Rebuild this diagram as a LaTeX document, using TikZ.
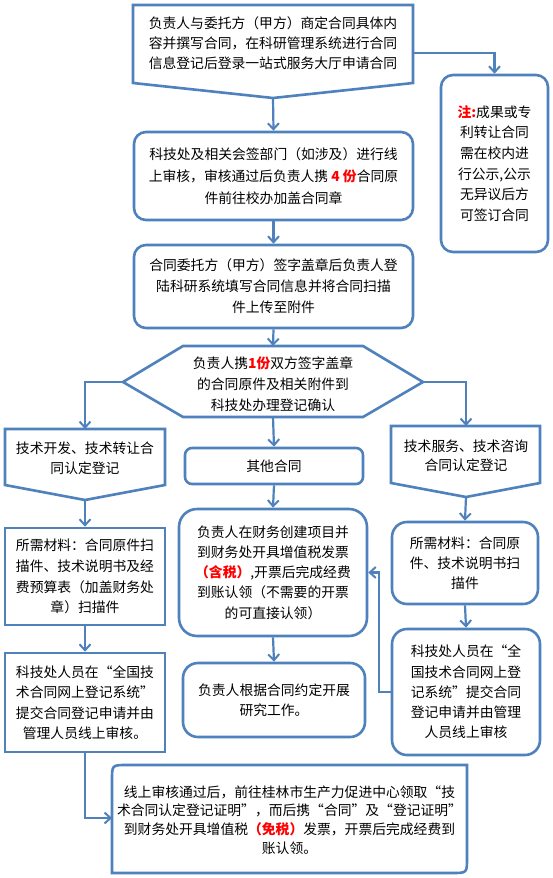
\documentclass[tikz,border=0pt]{standalone}
\usepackage{fontspec}
\setmainfont{Noto Sans CJK SC}
\usetikzlibrary{arrows.meta}
\definecolor{bl}{RGB}{79,129,189}
\definecolor{rd}{RGB}{255,0,0}
\newcommand{\hl}[1]{\textcolor{rd}{\bfseries #1}}
\begin{document}
\begin{tikzpicture}[x=1pt,y=-1pt,
  box/.style={draw=bl, line width=2.6pt, fill=white, line join=miter},
  txt/.style={align=center, inner sep=0pt, font=\fontsize{13.8}{#1}\selectfont},
  txt/.default=20.5,
  rbox/.style={box, rounded corners=#1, inner sep=0pt},
  rbox/.default=12pt,
  arr/.style={draw=bl, line width=2.2pt, -{Straight Barb[length=6pt,width=11pt,line width=2pt]}}]
\fill[white] (0,0) rectangle (552,878);
\useasboundingbox (0,0) rectangle (552,878);

% box 1 (pentagon)
\draw[box] (133,5) -- (413,5) -- (413,83) -- (273,98) -- (133,83) -- cycle;
\node[txt=20] (t1) at (273,43) {负责人与委托方（甲方）商定合同具体内\\容并撰写合同，在科研管理系统进行合同\\信息登记后登录一站式服务大厅申请合同};
\coordinate (b1s) at (273,98);
\coordinate (b1e) at (413,53);

% note
\node[rbox=12pt, minimum width=107pt, minimum height=177pt, txt=20.6] (note) at (494.5,163.5)
  {\hl{注:}成果或专\\利转让合同\\需在校内进\\行公示,公示\\无异议后方\\可签订合同};
\draw[arr] (b1e) -| (note.north);

% box 2
\node[rbox=12pt, minimum width=279pt, minimum height=88pt, txt=22] (b2) at (273.5,176)
  {科技处及相关会签部门（如涉及）进行线\\上审核，审核通过后负责人携\hl{ 4 份}合同原\\件前往校办加盖合同章};
\draw[arr] (b1s) -- (b2.north);

% box 3
\node[rbox=12pt, minimum width=279pt, minimum height=83pt, txt=21] (b3) at (273.5,286.5)
  {合同委托方（甲方）签字盖章后负责人登\\陆科研系统填写合同信息并将合同扫描\\件上传至附件};
\draw[arr] (b2.south) -- (b3.north);

% hexagon
\draw[box] (123,382) -- (183,346) -- (363,346) -- (423,382) -- (363,417) -- (183,417) -- cycle;
\node[txt=21] (t4) at (273,384) {负责人携\hl{1份}双方签字盖章\\的合同原件及相关附件到\\科技处办理登记确认};
\coordinate (hexL) at (123,382);
\coordinate (hexR) at (423,382);
\coordinate (hexT) at (273,346);
\coordinate (hexB) at (273,417);
\draw[arr] (b3.south) -- (hexT);

% left column
\coordinate (aT) at (85,429);
\coordinate (aB) at (85,500);
\draw[box] (5,429) -- (165,429) -- (165,485) -- (85,500) -- (5,485) -- cycle;
\node[txt=20] (tA) at (85,458) {技术开发、技术转让合\\同认定登记};
\draw[arr] (hexL) -| (aT);

\node[rbox=0pt, minimum width=160pt, minimum height=97pt, txt=20.7] (bB) at (85,576.5)
  {所需材料：合同原件扫\\描件、技术说明书及经\\费预算表（加盖财务处\\章）扫描件};
\draw[arr] (aB) -- (bB.north);

\node[rbox=0pt, minimum width=160pt, minimum height=99pt, txt=20.5] (bC) at (85,702.5)
  {科技处人员在“全国技\\术合同网上登记系统”\\提交合同登记申请并由\\管理人员线上审核。};
\draw[arr] (bB.south) -- (bC.north);

% bottom box
\draw[box] (112,873) -- (112,780) .. controls (112,765) .. (127,765) -- (467,765) -- (467,858)
  .. controls (467,873) .. (452,873) -- cycle;
\node[txt=18.8] (t9) at (289.5,820)
  {线上审核通过后，前往桂林市生产力促进中心领取“技\\术合同认定登记证明”，而后携“合同”及“登记证明”\\到财务处开具增值税\hl{（免税）}发票，开票后完成经费到\\账认领。};
\coordinate (dW) at (112,818);
\draw[arr] (bC.south) |- (dW);

% middle column
\node[rbox=7pt, minimum width=178pt, minimum height=36pt, txt] (bD) at (274,466) {其他合同};
\draw[arr] (hexB) -- (bD.north);

\node[rbox=18pt, minimum width=188pt, minimum height=127pt, txt=20.3] (bE) at (273,572.5)
  {负责人在财务创建项目并\\到财务处开具增值税发票\\\hl{（含税）},开票后完成经费\\到账认领（不需要的开票\\的可直接认领）};
\draw[arr] (bD.south) -- (bE.north);

\node[rbox=15pt, minimum width=182pt, minimum height=74pt, txt] (bF) at (274,700)
  {负责人根据合同约定开展\\研究工作。};
\draw[arr] (bE.south) -- (bF.north);

% right column
\coordinate (gT) at (466,426);
\draw[box] (391,426) -- (540,426) -- (540,483) -- (466,497) -- (391,483) -- cycle;
\node[txt=19.5] (tG) at (466,456) {技术服务、技术咨询\\合同认定登记};
\coordinate (gB) at (466,497);
\draw[arr] (hexR) -| (gT);

\node[rbox=15pt, minimum width=146pt, minimum height=82pt, txt=20] (bH) at (465,563)
  {所需材料：合同原\\件、技术说明书扫\\描件};
\draw[arr] (gB) -- (bH.north);

\node[rbox=15pt, minimum width=148pt, minimum height=126pt, txt=20.3] (bI) at (466,692)
  {科技处人员在“全\\国技术合同网上登\\记系统”提交合同\\登记申请并由管理\\人员线上审核};
\draw[arr] (bH.south) -- (bI.north);

\coordinate (fb) at (379,692);
\draw[arr] (bI.west) -- (fb) |- (bE.east);
\end{tikzpicture}
\end{document}
